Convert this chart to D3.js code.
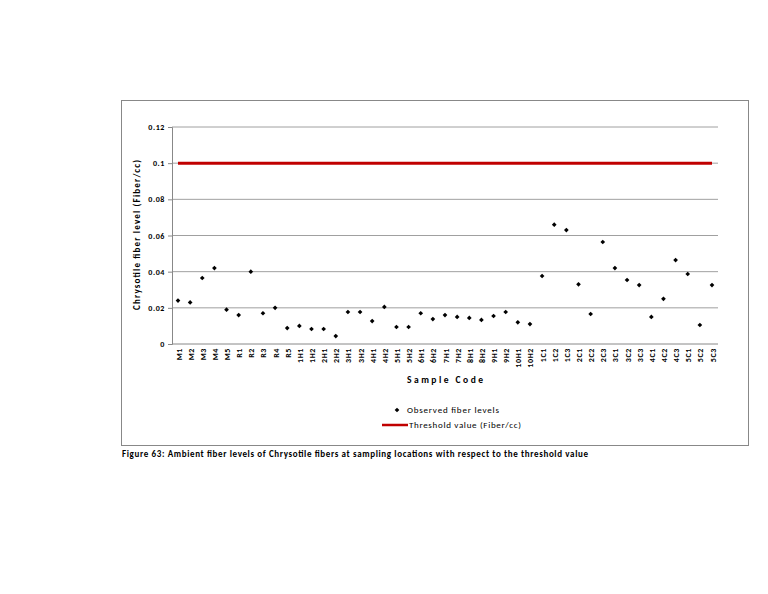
<!DOCTYPE html><html><head><meta charset="utf-8"><script src="https://cdn.jsdelivr.net/npm/d3@7"></script>
<style>body{margin:0;background:#fff}text{font-family:Carlito,Calibri,"Liberation Sans",sans-serif}</style></head><body><svg id="c" width="768" height="594"></svg><script>
const categories=["M1","M2","M3","M4","M5","R1","R2","R3","R4","R5","1H1","1H2","2H1","2H2","3H1","3H2","4H1","4H2","5H1","5H2","6H1","6H2","7H1","7H2","8H1","8H2","9H1","9H2","10H1","10H2","1C1","1C2","1C3","2C1","2C2","2C3","3C1","3C2","3C3","4C1","4C2","4C3","5C1","5C2","5C3"];
const observed=[0.024,0.023,0.0365,0.042,0.019,0.016,0.040,0.017,0.020,0.0088,0.010,0.0083,0.0083,0.0044,0.0177,0.0177,0.0127,0.0205,0.0094,0.0094,0.017,0.0138,0.016,0.015,0.0144,0.0133,0.0155,0.0177,0.012,0.011,0.0376,0.066,0.063,0.033,0.0166,0.0564,0.042,0.0354,0.0326,0.015,0.025,0.0464,0.0387,0.0105,0.0326];
const threshold=categories.map(()=>0.1);
const yTicks=[0,0.02,0.04,0.06,0.08,0.1,0.12];
const svg=d3.select("#c");
svg.append("rect").attr("x",121.5).attr("y",100.5).attr("width",627).attr("height",345).attr("fill","none").attr("stroke","#888");
const x=d3.scalePoint().domain(categories).range([178,712]);
const y=d3.scaleLinear().domain([0,0.12]).range([344,127]);
const g=svg.append("g");
g.selectAll(".gl").data(yTicks.slice(1)).join("line").attr("x1",172).attr("x2",718).attr("y1",d=>y(d)).attr("y2",d=>y(d)).attr("stroke","#888").attr("stroke-width",0.8);
const ya=g.append("g").attr("transform","translate(172,0)").call(d3.axisLeft(y).tickValues(yTicks).tickFormat(d=>d===0?"0":String(+d.toFixed(2))).tickSize(4));
ya.selectAll("text").attr("font-size",8).attr("font-weight","bold").attr("letter-spacing",0.6);
ya.select(".domain").attr("stroke","#888");ya.selectAll("line").attr("stroke","#888");
const xa=g.append("g").attr("transform","translate(0,344)").call(d3.axisBottom(x).tickSize(0));
xa.select(".domain").attr("d","M172,0H718").attr("stroke","#888");
xa.selectAll("text").attr("font-size",8).attr("font-weight","bold").attr("letter-spacing",0.6).attr("transform","rotate(-90)").attr("text-anchor","end").attr("dx",-4).attr("dy",3).attr("y",0).attr("x",0);
g.append("path").datum(threshold).attr("d",d3.line().x((d,i)=>x(categories[i])).y(d=>y(d))).attr("stroke","#c00000").attr("stroke-width",3).attr("fill","none");
g.selectAll(".pt").data(observed).join("path").attr("d",d3.symbol(d3.symbolDiamond2,14)).attr("transform",(d,i)=>`translate(${x(categories[i])},${y(d)})`).attr("fill","#000");
svg.append("text").attr("x",445).attr("y",383).attr("text-anchor","middle").attr("font-size",9.5).attr("font-weight","bold").attr("textLength",76).text("Sample Code");
svg.append("text").attr("transform","translate(140,235) rotate(-90)").attr("text-anchor","middle").attr("font-size",9).attr("font-weight","bold").attr("textLength",150).text("Chrysotile fiber level (Fiber/cc)");
svg.append("path").attr("d",d3.symbol(d3.symbolDiamond2,14)).attr("transform","translate(397,410)");
svg.append("text").attr("x",407).attr("y",413).attr("font-size",9).attr("textLength",92).text("Observed fiber levels");
svg.append("line").attr("x1",382).attr("x2",408).attr("y1",425).attr("y2",425).attr("stroke","#c00000").attr("stroke-width",2.5);
svg.append("text").attr("x",409).attr("y",428).attr("font-size",9).attr("textLength",112).text("Threshold value (Fiber/cc)");
svg.append("text").attr("x",122).attr("y",457).attr("font-size",9).attr("font-weight","bold").attr("textLength",466).text("Figure 63: Ambient fiber levels of Chrysotile fibers at sampling locations with respect to the threshold value");
</script></body></html>
